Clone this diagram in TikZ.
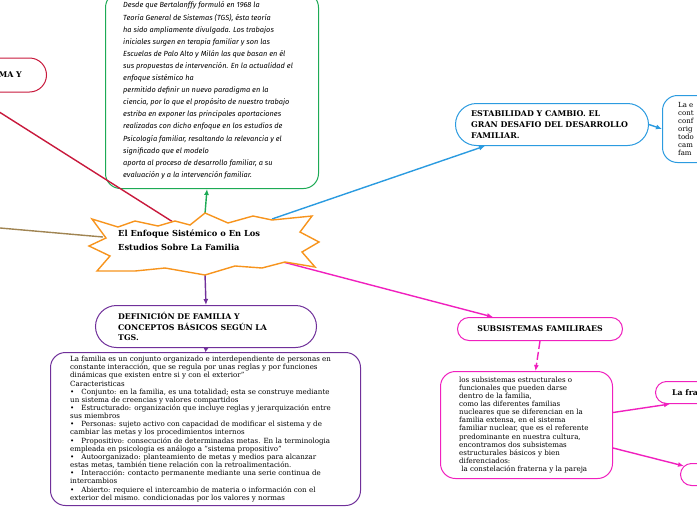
\documentclass[tikz,border=0pt]{standalone}
\usepackage{fontspec}
\setmainfont{DejaVu Serif}
\newfontfamily\hand{Fira Sans}
\usetikzlibrary{arrows.meta}
\definecolor{cgreen}{HTML}{1DAA55}
\definecolor{ccrim}{HTML}{C8193C}
\definecolor{colive}{HTML}{A08452}
\definecolor{cblue}{HTML}{2B9BE0}
\definecolor{cmag}{HTML}{F020BE}
\definecolor{cpurp}{HTML}{70309A}
\definecolor{corange}{HTML}{F7941D}
\begin{document}
\begin{tikzpicture}[x=1pt,y=-1pt,
  frame/.style={draw, line width=1pt, fill=white, inner sep=0pt},
  body/.style={anchor=west, align=left, inner sep=0pt, font=\fontsize{7.1}{8.15}\selectfont},
  head/.style={anchor=west, align=left, inner sep=0pt, font=\bfseries\fontsize{7.9}{11}\selectfont},
  conn/.style={line width=1.4pt},
  tip/.style={-{Latex[length=6pt,width=5pt]}}]
\useasboundingbox (0,0) rectangle (697,520);
\clip (0,0) rectangle (697,520);

% boxes
\node[frame, draw=cgreen, rounded corners=15pt, minimum width=213pt, minimum height=196pt, anchor=north west] (intro) at (105,-8) {};
\node[anchor=west, align=left, inner sep=0pt, font=\hand\itshape\fontsize{7.4}{12.1}\selectfont] (introtext) at ([xshift=18pt]intro.west) {Desde que Bertalanffy formuló en 1968 la\\
Teoría General de Sistemas (TGS), ésta teoría\\
ha sido ampliamente divulgada. Los trabajos\\
iniciales surgen en terapia familiar y son las\\
Escuelas de Palo Alto y Milán las que basan en él\\
sus propuestas de intervención. En la actualidad el\\
enfoque sistémico ha\\
permitido definir un nuevo paradigma en la\\
ciencia, por lo que el propósito de nuestro trabajo\\
estriba en exponer las principales aportaciones\\
realizadas con dicho enfoque en los estudios de\\
Psicología familiar, resaltando la relevancia y el\\
significado que el modelo\\
aporta al proceso de desarrollo familiar, a su\\
evaluación y a la intervención familiar.};

\node[frame, draw=ccrim, rounded corners=17pt, minimum width=156pt, minimum height=34pt, anchor=east] (teoria) at (47,75) {};
\node[head, anchor=east] (teoriatext) at ([xshift=-25pt]teoria.east) {MA Y};

\node[frame, draw=cblue, rounded corners=21pt, minimum width=193pt, minimum height=42pt, anchor=north west] (estab) at (455,103) {};
\node[head] (estabtext) at ([xshift=16pt]estab.west) {ESTABILIDAD Y CAMBIO. EL\\GRAN DESAFIO DEL DESARROLLO\\FAMILIAR.};

\node[frame, draw=cblue, rounded corners=15pt, minimum width=100pt, minimum height=67pt, anchor=north west] (estabdet) at (662,95) {};
\node[body, font=\fontsize{7}{8.1}\selectfont] (estabdettext) at ([xshift=16pt]estabdet.west) {La e\\cont\\conf\\orig\\todo\\cam\\fam};

\node[frame, draw=cpurp, rounded corners=21pt, minimum width=221pt, minimum height=42pt, anchor=north west] (defin) at (95,305) {};
\node[head, font=\bfseries\fontsize{7.8}{10.5}\selectfont] (defintext) at ([xshift=23pt]defin.west) {DEFINICIÓN DE FAMILIA Y\\CONCEPTOS BÁSICOS SEGÚN LA\\TGS.};

\node[frame, draw=cpurp, rounded corners=15pt, minimum width=310pt, minimum height=153pt, anchor=north west] (famdef) at (50,352) {};
\node[body] (famdeftext) at ([xshift=20pt]famdef.west) {La familia es un conjunto organizado e interdependiente de personas en\\
constante interacción, que se regula por unas reglas y por funciones\\
dinámicas que existen entre si y con el exterior"\\
Caracteristicas\\
•\hspace{7pt}Conjunto: en la familia, es una totalidad; esta se construye mediante\\
un sistema de creencias y valores compartidos\\
•\hspace{7pt}Estructurado: organización que incluye reglas y jerarquización entre\\
sus miembros\\
•\hspace{7pt}Personas: sujeto activo con capacidad de modificar el sistema y de\\
cambiar las metas y los procedimientos internos\\
•\hspace{7pt}Propositivo: consecución de determinadas metas. En la terminologia\\
empleada en psicologia es análogo a "sistema propositivo"\\
•\hspace{7pt}Autoorganizado: planteamiento de metas y medios para alcanzar\\
estas metas, también tiene relación con la retroalimentación.\\
•\hspace{7pt}Interacción: contacto permanente mediante una serie continua de\\
intercambios\\
•\hspace{7pt}Abierto: requiere el intercambio de materia o información con el\\
exterior del mismo. condicionadas por los valores y normas};

\node[frame, draw=cmag, rounded corners=11.5pt, minimum width=165pt, minimum height=23pt, anchor=north west] (subsis) at (457,317) {};
\node[inner sep=0pt, font=\bfseries\fontsize{7.8}{9}\selectfont] (subsistext) at (subsis.center) {SUBSISTEMAS FAMILIRAES};

\node[frame, draw=cmag, rounded corners=15pt, minimum width=172pt, minimum height=107pt, anchor=north west] (subdet) at (440,371) {};
\node[body, font=\fontsize{7.1}{8.1}\selectfont] (subdettext) at ([xshift=19pt]subdet.west) {los subsistemas estructurales o\\
funcionales que pueden darse\\
dentro de la familia,\\
como las diferentes familias\\
nucleares que se diferencian en la\\
familia extensa, en el sistema\\
familiar nuclear, que es el referente\\
predominante en nuestra cultura,\\
encontramos dos subsistemas\\
estructurales básicos y bien\\
diferenciados:\\
\ la constelación fraterna y la pareja};

\node[frame, draw=cmag, rounded corners=11pt, minimum width=80pt, minimum height=22pt, anchor=north west] (frat) at (655,381) {};
\node[head, font=\bfseries\fontsize{7.8}{9}\selectfont] (frattext) at ([xshift=17pt]frat.west) {La fra};

\node[frame, draw=cmag, rounded corners=11pt, minimum width=60pt, minimum height=22pt, anchor=north west] (pareja) at (680,463) {};

% star connection points
\coordinate (sRed) at (173,222);
\coordinate (sOlive) at (103,237);
\coordinate (oliveEnd) at (-40,224.5);
\coordinate (sBlue) at (272,219);
\coordinate (sMag) at (283,262);
\coordinate (sGreen) at (205,214);
\coordinate (sPurp) at (205,274);

% connectors
\draw[conn, ccrim] (sRed) -- (teoria.south);
\draw[conn, colive] (sOlive) -- (oliveEnd);
\draw[conn, cblue, tip] (sBlue) -- ([xshift=30pt]estab.south west);
\draw[conn, cmag, tip] (sMag) -- ([xshift=36pt]subsis.north west);
\draw[conn, cgreen, tip] (sGreen) -- ([xshift=-5pt]intro.south);
\draw[conn, cpurp, tip] (sPurp) -- (defin.north);
\draw[conn, cpurp, -{Latex[length=4pt,width=5pt]}] (defin.south) -- (famdef.north);
\draw[conn, cblue, tip] (estab.east) -- (estabdet.west);
\draw[conn, cmag, dash pattern=on 8pt off 3pt, tip] (subsis.south) -- ([xshift=9pt]subdet.north);
\draw[conn, cmag, tip] ([yshift=12.5pt]subdet.east) -- ([xshift=15pt]frat.south west);
\draw[conn, cmag, tip] ([yshift=-23pt]subdet.east) -- ([xshift=4pt,yshift=-3pt]pareja.north west);

% star
\draw[corange, line width=1.4pt, fill=white, line join=miter]
 (92,219) -- (118,227) -- (135,221) -- (158,226) -- (175,221) -- (190,225) -- (205,213)
 -- (228,223) -- (253,216) -- (272,220) -- (312,216) -- (300,232) -- (319,242) -- (302,252)
 -- (315,267) -- (285,262) -- (262,268) -- (235,266) -- (205,275) -- (165,268) -- (135,271)
 -- (97,271) -- (110,256) -- (89,246) -- (106,238) -- cycle;
\node[anchor=west, align=left, inner sep=0pt, font=\bfseries\fontsize{8.3}{13.5}\selectfont] (core) at (118,240) {El Enfoque Sistémico o En Los\\Estudios Sobre La Familia};
\end{tikzpicture}
\end{document}
